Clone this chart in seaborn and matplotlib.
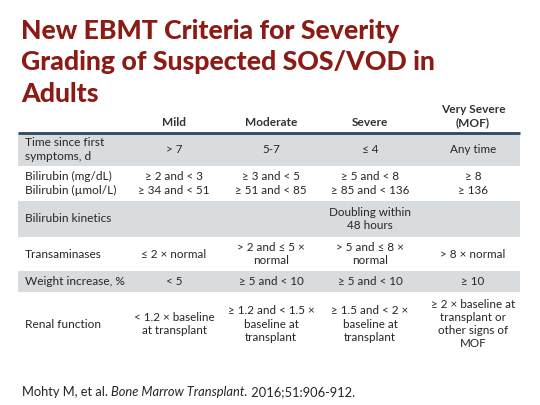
import numpy as np
import matplotlib
matplotlib.use("Agg")
import matplotlib.pyplot as plt
import seaborn as sns

title_lines = ["New EBMT Criteria for Severity", "Grading of Suspected SOS/VOD in", "Adults"]
columns = ["Mild", "Moderate", "Severe", "Very Severe\n(MOF)"]
row_labels = [
    "Time since first\nsymptoms, d",
    "Bilirubin (mg/dL)\nBilirubin (\u00b5mol/L)",
    "Bilirubin kinetics",
    "Transaminases",
    "Weight increase, %",
    "Renal function",
]
cells = [
    ["> 7", "5-7", "\u2264 4", "Any time"],
    ["\u2265 2 and < 3\n\u2265 34 and < 51", "\u2265 3 and < 5\n\u2265 51 and < 85",
     "\u2265 5 and < 8\n\u2265 85 and < 136", "\u2265 8\n\u2265 136"],
    ["", "", "Doubling within\n48 hours", ""],
    ["\u2264 2 \u00d7 normal", "> 2 and \u2264 5 \u00d7\nnormal", "> 5 and \u2264 8 \u00d7\nnormal", "> 8 \u00d7 normal"],
    ["< 5", "\u2265 5 and < 10", "\u2265 5 and < 10", "\u2265 10"],
    ["< 1.2 \u00d7 baseline\nat transplant", "\u2265 1.2 and < 1.5 \u00d7\nbaseline at\ntransplant",
     "\u2265 1.5 and < 2 \u00d7\nbaseline at\ntransplant", "\u2265 2 \u00d7 baseline at\ntransplant or\nother signs of\nMOF"],
]
citation = ["Mohty M, et al. ", "Bone Marrow Transplant.", " 2016;51:906-912."]

# layout in pixel coords (540 x 405)
row_edges = [133, 166, 201, 237, 271, 292, 356]
col_centers = [174, 271, 370, 473]
tab_left, tab_right = 18, 520

sns.set_theme(style="white")
plt.rcParams["font.family"] = ["Lato", "DejaVu Sans"]

fig = plt.figure(figsize=(5.4, 4.05), dpi=100)
ax = fig.add_axes([0, 0, 1, 1])
ax.set_xlim(0, 540)
ax.set_ylim(405, 0)
ax.axis("off")

red = "#8C1A15"
txt = "#262626"

for i, line in enumerate(title_lines):
    ax.text(21, 39 + i * 31.5, line, color=red, fontsize=19.2, fontweight=900, va="baseline")

for j, col in enumerate(columns):
    ax.text(col_centers[j], 128, col, ha="center", va="bottom", fontsize=8.6,
            fontweight="bold", color="#333333", linespacing=1.25)

for i in range(len(row_labels)):
    top, bot = row_edges[i], row_edges[i + 1]
    if i % 2 == 0:
        ax.axhspan(top, bot, xmin=tab_left / 540, xmax=tab_right / 540, color="#D8DCDF", lw=0)
    yc = (top + bot) / 2
    ax.text(25, yc, row_labels[i], ha="left", va="center", fontsize=8.6, color=txt, linespacing=1.25)
    for j, val in enumerate(cells[i]):
        ax.text(col_centers[j], yc, val, ha="center", va="center", fontsize=8.4,
                color=txt, linespacing=1.25)

ax.plot([tab_left, tab_right], [133, 133], color="#2C4860", lw=2.0, solid_capstyle="butt")

# citation with italic journal name
x = 22
for k, part in enumerate(citation):
    t = ax.text(x, 392, part, fontsize=9.3, color=txt, va="center",
                style="italic" if k == 1 else "normal")
    fig.canvas.draw()
    bb = t.get_window_extent()
    x = bb.x1

fig.savefig("out.png", dpi=100)
